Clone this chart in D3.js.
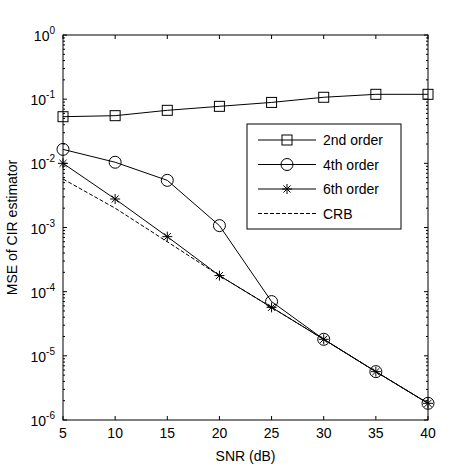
<!DOCTYPE html>
<html><head><meta charset="utf-8">
<script src="https://cdn.jsdelivr.net/npm/d3@7"></script>
<style>body{margin:0;background:#fff}text{font-family:"Liberation Sans",Arial,sans-serif}</style>
</head><body><div id="chart"></div>
<script>
var snr = [5, 10, 15, 20, 25, 30, 35, 40];
var order2 = [0.0533, 0.0553, 0.067, 0.0773, 0.089, 0.107, 0.119, 0.119];
var order4 = [0.0165, 0.0104, 0.00543, 0.00107, 7.0e-5, 1.81e-5, 5.67e-6, 1.82e-6];
var order6 = [0.0100, 0.00278, 7.2e-4, 1.78e-4, 5.7e-5, 1.81e-5, 5.67e-6, 1.82e-6];
var crb = [0.0057, 0.0020, 6.0e-4, 1.78e-4, 5.7e-5, 1.81e-5, 5.67e-6, 1.82e-6];
var yExp = [-6, -5, -4, -3, -2, -1, 0];

var W = 474, H = 473;
var m = {l: 63, r: 46, t: 35, b: 53};
var svg = d3.select('#chart').append('svg').attr('width', W).attr('height', H);
var x = d3.scaleLinear().domain([5, 40]).range([m.l, W - m.r]);
var y = d3.scaleLog().domain([1e-6, 1]).range([H - m.b, m.t]);
var x0 = m.l, x1 = W - m.r, y0 = m.t, y1 = H - m.b;

svg.append('rect').attr('x', x0).attr('y', y0).attr('width', x1 - x0).attr('height', y1 - y0)
    .attr('fill', 'none').attr('stroke', '#000');

// ticks inward on all sides
snr.forEach(function (v) {
    svg.append('line').attr('x1', x(v)).attr('x2', x(v)).attr('y1', y1).attr('y2', y1 - 4).attr('stroke', '#000');
    svg.append('line').attr('x1', x(v)).attr('x2', x(v)).attr('y1', y0).attr('y2', y0 + 4).attr('stroke', '#000');
    svg.append('text').attr('x', x(v)).attr('y', y1 + 18).attr('text-anchor', 'middle')
        .attr('font-size', 14).text(v);
});
yExp.forEach(function (e) {
    var yy = y(Math.pow(10, e));
    svg.append('line').attr('x1', x0).attr('x2', x0 + 4).attr('y1', yy).attr('y2', yy).attr('stroke', '#000');
    svg.append('line').attr('x1', x1).attr('x2', x1 - 4).attr('y1', yy).attr('y2', yy).attr('stroke', '#000');
    var t = svg.append('text').attr('x', x0 - 8).attr('y', yy + 6).attr('text-anchor', 'end').attr('font-size', 14);
    t.append('tspan').text('10');
    t.append('tspan').attr('dy', -7).attr('font-size', 10).text(e);
    if (e < 0) {
        for (var k = 2; k < 10; k++) {
            var ym = y(k * Math.pow(10, e));
            svg.append('line').attr('x1', x0).attr('x2', x0 + 2).attr('y1', ym).attr('y2', ym).attr('stroke', '#000');
            svg.append('line').attr('x1', x1).attr('x2', x1 - 2).attr('y1', ym).attr('y2', ym).attr('stroke', '#000');
        }
    }
});

svg.append('text').attr('x', (x0 + x1) / 2).attr('y', H - 12).attr('text-anchor', 'middle')
    .attr('font-size', 14).text('SNR (dB)');
svg.append('text').attr('transform', 'translate(17,' + ((y0 + y1) / 2) + ') rotate(-90)')
    .attr('text-anchor', 'middle').attr('font-size', 14).text('MSE of CIR estimator');

var line = d3.line().x(function (d, i) { return x(snr[i]); }).y(function (d) { return y(d); });

function marker(g, type, cx, cy) {
    if (type === 'square') {
        g.append('rect').attr('x', cx - 5).attr('y', cy - 5).attr('width', 10).attr('height', 10)
            .attr('fill', 'none').attr('stroke', '#000');
    } else if (type === 'circle') {
        g.append('circle').attr('cx', cx).attr('cy', cy).attr('r', 6).attr('fill', 'none').attr('stroke', '#000');
    } else if (type === 'star') {
        [0, 45, 90, 135].forEach(function (a) {
            var r = a * Math.PI / 180, dx = Math.cos(r) * 5, dy = Math.sin(r) * 5;
            g.append('line').attr('x1', cx - dx).attr('x2', cx + dx).attr('y1', cy - dy).attr('y2', cy + dy).attr('stroke', '#000');
        });
    }
}

var series = [
    {name: 'CRB', data: crb, mk: null, dash: '4,2'},
    {name: '2nd order', data: order2, mk: 'square', dash: null},
    {name: '4th order', data: order4, mk: 'circle', dash: null},
    {name: '6th order', data: order6, mk: 'star', dash: null}
];
series.forEach(function (s) {
    svg.append('path').datum(s.data).attr('d', line).attr('fill', 'none').attr('stroke', '#000')
        .attr('stroke-width', 1).attr('stroke-dasharray', s.dash);
    if (s.mk) s.data.forEach(function (d, i) { marker(svg, s.mk, x(snr[i]), y(d)); });
});

// legend
var lg = svg.append('g');
lg.append('rect').attr('x', 247).attr('y', 124).attr('width', 154).attr('height', 105)
    .attr('fill', '#fff').attr('stroke', '#000');
var legendOrder = [series[1], series[2], series[3], series[0]];
legendOrder.forEach(function (s, i) {
    var ly = 140 + i * 24.5;
    lg.append('line').attr('x1', 258).attr('x2', 316).attr('y1', ly).attr('y2', ly).attr('stroke', '#000')
        .attr('stroke-dasharray', s.dash);
    if (s.mk) marker(lg, s.mk, 287, ly);
    lg.append('text').attr('x', 323).attr('y', ly + 5).attr('font-size', 14).text(s.name);
});
</script></body></html>
